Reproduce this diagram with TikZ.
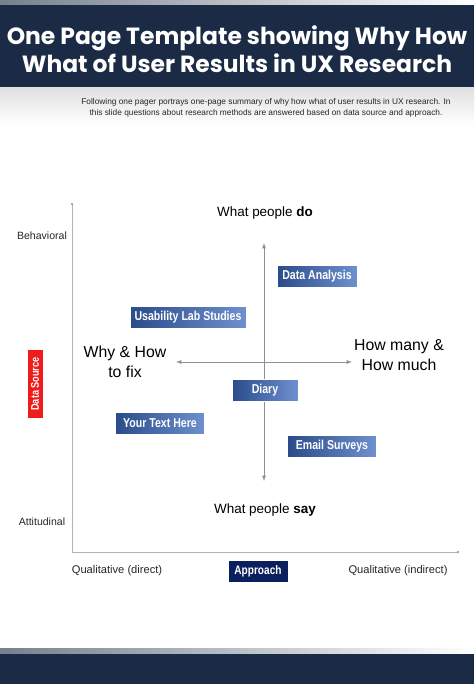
\documentclass[tikz,border=0pt]{standalone}
\usepackage{fontspec}
\setmainfont{Liberation Sans}
\newfontfamily\titlefont{Poppins}
\newfontfamily\narrowfont[FakeStretch=0.82]{Liberation Sans}
\usepackage{tikz}
\usetikzlibrary{shapes,calc,positioning,arrows,shadows}
\definecolor{navy}{HTML}{1C2B45}
\definecolor{boxdark}{HTML}{2A4C8A}
\definecolor{boxlight}{HTML}{6F90CF}
\definecolor{appr}{HTML}{0B1F5C}
\definecolor{srcred}{HTML}{EE1C1C}
\definecolor{axisgray}{HTML}{B4B4B4}

\begin{document}
\begin{tikzpicture}[x=0.03cm, y=-0.03cm]
\tikzstyle{tb}=[draw=white,line width=0.8pt,left color=boxdark,right color=boxlight,text=white,font=\narrowfont\bfseries\fontsize{11}{12}\selectfont,minimum height=0.66cm,inner sep=2pt,drop shadow={opacity=0.5,fill=boxdark!70!black,shadow xshift=0.8pt,shadow yshift=-0.8pt}]
\tikzstyle{lab}=[draw=none,text=black!85,font=\fontsize{9}{10}\selectfont]
\tikzstyle{big}=[draw=none,align=center,font=\fontsize{13.5}{17.5}\selectfont]
\useasboundingbox (0,0) rectangle (474,684);
% header
\shade[left color=navy!60!white,right color=white] (0,0) rectangle (474,5);
\fill[navy] (0,5) rectangle (474,88);
\node[draw=none,text=white,align=center,font=\titlefont\bfseries\fontsize{20}{24}\selectfont] (title) at (237,49) {One Page Template showing Why How\\What of User Results in UX Research};
\shade[top color=black!12,bottom color=white] (0,88) rectangle (474,125);
\node[draw=none,align=center,text=black!85,font=\fontsize{7.1}{9.5}\selectfont] (sub) at (266,108) {Following one pager portrays one-page summary of why how what of user results in UX research. In\\this slide questions about research methods are answered based on data source and approach.};
% axes
\coordinate (o) at (72,552);
\coordinate (ytop) at (72,204);
\coordinate (xend) at (458,552);
\draw[axisgray,line width=0.8pt] (ytop) -- (o) -- (xend);
\fill[axisgray!80!black] (ytop) circle (1.2);
\fill[axisgray!80!black] (xend) circle (1.2);
\node[lab] (beh) at (42,236) {Behavioral};
\node[lab] (att) at (42,522) {Attitudinal};
\node[draw=none,fill=srcred,text=white,rotate=90,minimum width=2.05cm,minimum height=0.45cm,inner sep=1pt,font=\narrowfont\bfseries\fontsize{9.5}{10}\selectfont] (src) at (35,384) {Data Source};
\node[lab,font=\fontsize{9.5}{10}\selectfont] (qd) at (117,571) {Qualitative (direct)};
\node[lab,font=\fontsize{9.5}{10}\selectfont] (qi) at (398,571) {Qualitative (indirect)};
\node[draw=none,fill=appr,text=white,minimum width=1.77cm,minimum height=0.63cm,inner sep=1pt,font=\narrowfont\bfseries\fontsize{10.5}{11}\selectfont] (appr) at (258,571) {Approach};
% quadrant
\node[big,font=\fontsize{11.5}{12}\selectfont] (do) at (265,213) {What people \textbf{do}};
\node[big,font=\fontsize{11.5}{12}\selectfont] (say) at (265,510) {What people \textbf{say}};
\node[big] (why) at (125,362) {Why \& How\\to fix};
\node[big] (many) at (399,355) {How many \&\\How much};
\coordinate (vt) at (264,243);
\coordinate (vb) at (264,481);
\coordinate (hl) at (176,362);
\coordinate (hr) at (352,362);
\draw[<->,>=latex,axisgray!80!black,line width=0.6pt] (vt) -- (vb);
\draw[<->,>=latex,axisgray!80!black,line width=0.6pt] (hl) -- (hr);
\node[tb,minimum width=2.4cm] (da) at (317,276) {Data Analysis};
\node[tb,minimum width=3.48cm] (uls) at (188,317) {Usability Lab Studies};
\node[tb,minimum width=1.98cm] (diary) at (265,390) {Diary};
\node[tb,minimum width=2.67cm] (yth) at (160,423) {Your Text Here};
\node[tb,minimum width=2.67cm] (es) at (332,446) {Email Surveys};
% footer
\shade[left color=navy!60!white,right color=white] (0,648) rectangle (474,654);
\fill[navy] (0,654) rectangle (474,684);
\end{tikzpicture}
\end{document}
